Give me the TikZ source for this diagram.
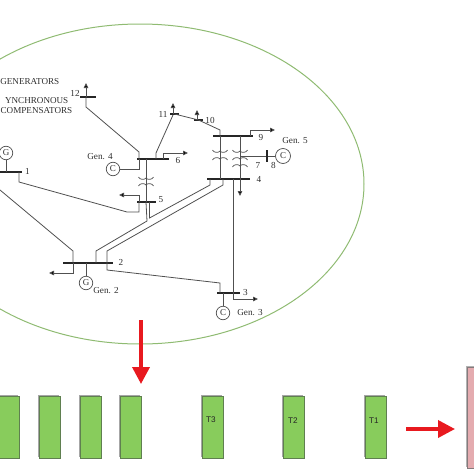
\documentclass[tikz,border=0pt]{standalone}
\usepackage{fontspec}
\setmainfont{Liberation Serif}
\newfontfamily\boxfont{Liberation Sans}
\usetikzlibrary{arrows.meta,shadows,shapes.geometric}
\definecolor{ringgreen}{HTML}{8FBB72}
\definecolor{boxgreen}{HTML}{88CC5C}
\definecolor{boxedge}{HTML}{5F7F50}
\definecolor{boxpink}{HTML}{E4ABAF}
\definecolor{pinkedge}{HTML}{857A7C}
\definecolor{redarrow}{HTML}{E8191F}
\definecolor{wire}{HTML}{505050}
\definecolor{inkgrey}{HTML}{2E2E2E}
\tikzset{
  busbar/.style={fill=black!85,draw=none,inner sep=0pt,minimum height=1.7pt},
  wireline/.style={draw=wire,line width=.8pt},
  loadarrow/.style={wireline,-{Triangle[length=5pt,width=4.5pt,fill=black]}},
  machine/.style={circle,draw=wire,line width=.7pt,inner sep=0pt,minimum size=13.5pt,font=\fontsize{9}{9}\selectfont,text=inkgrey},
  lab/.style={font=\fontsize{9.2}{10}\selectfont,text=inkgrey,inner sep=0pt},
  legendtext/.style={font=\fontsize{9.1}{10}\selectfont,text=inkgrey,inner sep=0pt,anchor=east},
  timebox/.style={rectangle,fill=boxgreen,draw=boxedge,line width=.8pt,inner sep=0pt,
    minimum width=21pt,minimum height=61.5pt,
    drop shadow={shadow xshift=-1.2pt,shadow yshift=1.4pt,fill=black,opacity=.35}},
  tlabel/.style={font=\boxfont\fontsize{8.2}{9}\selectfont,text=black!85,inner sep=0pt},
  pinkbox/.style={rectangle,fill=boxpink,draw=pinkedge,line width=.8pt,inner sep=0pt,
    drop shadow={shadow xshift=-1.2pt,shadow yshift=1.4pt,fill=black,opacity=.3}},
  redshaft/.style={draw=redarrow,line width=3.6pt},
}
\begin{document}
\begin{tikzpicture}[x=1pt,y=-1pt]
\useasboundingbox (0,0) rectangle (474,474);
\clip (0,0) rectangle (474,474);
\node[draw=ringgreen,line width=1pt,ellipse,inner sep=0pt,minimum width=448pt,minimum height=320pt] (ring) at (140,184) {};

% buses
\node[busbar,minimum width=26pt] (b1) at (9,172) {};
\node[busbar,minimum width=50pt] (b2) at (88,263) {};
\node[busbar,minimum width=23pt] (b3) at (228.5,293) {};
\node[busbar,minimum width=43pt] (b4) at (228.5,179) {};
\node[busbar,minimum width=19pt] (b5) at (146.5,202) {};
\node[busbar,minimum width=32pt] (b6) at (153,159) {};
\node[busbar,minimum width=2pt,minimum height=12pt] (b8) at (267,156) {};
\node[busbar,minimum width=40pt] (b9) at (233,136) {};
\node[busbar,minimum width=9pt] (b10) at (198.5,120) {};
\node[busbar,minimum width=9pt] (b11) at (174.5,114) {};
\node[busbar,minimum width=16pt] (b12) at (88,97) {};

% machines
\node[machine] (g1) at (6,153) {G};
\node[machine] (g2) at (86,283) {G};
\node[machine] (c3) at (223,313) {C};
\node[machine] (c4) at (113,169) {C};
\node[machine,minimum size=15pt] (c5) at (283,156) {C};

% tap points
\coordinate (t1a) at (19,172);
\coordinate (t1b) at (0,190);
\coordinate (t2a) at (73,263);
\coordinate (t2b) at (96,263);
\coordinate (t2c) at (107,263);
\coordinate (t3a) at (220,293);
\coordinate (t3b) at (233,293);
\coordinate (t4a) at (210,179);
\coordinate (t4b) at (223,179);
\coordinate (t4c) at (220,179);
\coordinate (t4d) at (240,179);
\coordinate (t4e) at (233,179);
\coordinate (t5a) at (139,202);
\coordinate (t5b) at (146,202);
\coordinate (t5c) at (149.5,202);
\coordinate (t6a) at (139,159);
\coordinate (t6b) at (146,159);
\coordinate (t6c) at (156,159);
\coordinate (t6d) at (163,159);
\coordinate (t9a) at (220,136);
\coordinate (t9b) at (240,136);
\coordinate (t9c) at (250,136);
\coordinate (e2) at (49,273);
\coordinate (e3) at (258,299);
\coordinate (e4) at (240,196);
\coordinate (e5) at (119,195);
\coordinate (e6) at (188,153);
\coordinate (e9) at (275,130);
\coordinate (e10) at (197,110);
\coordinate (e11) at (173,103);
\coordinate (e12) at (86,83);

% lines
\draw[wireline] (t1a) -- (19,182) -- (127,212) -- (139,212) -- (t5a);
\draw[wireline] (t1b) -- (73,251) -- (t2a);
\draw[wireline] (t5b) -- (147,221) -- (96,251) -- (t2b);
\draw[wireline] (t5c) -- (149.5,218) -- (210,185) -- (t4a);
\draw[wireline] (t2c) -- (107,251) -- (223,185) -- (t4b);
\draw[wireline] (t2c) -- (107,270) -- (220,283) -- (t3a);
\draw[wireline] (t4e) -- (t3b);
\draw[wireline] (b12.center -| e12) -- (86,107) -- (139,152) -- (t6a);
\draw[wireline] (t6c) -- (156,153) -- (173,115);
\draw[wireline] (t6b) -- (t5b);
\draw[wireline] (t4c) -- (t9a);
\draw[wireline] (t4d) -- (t9b);
\draw[wireline] (b11.center) -- (b10.center);
\draw[wireline] (b10.center) -- (220,130) -- (t9a);
\draw[wireline] (c4) -- (139,169) -- (t6a);
\draw[wireline] (240,156) -- (b8);
\draw[wireline] (b8) -- (c5);
\draw[wireline] (g1) -- (g1 |- b1);
\draw[wireline] (g2) -- (g2 |- b2);
\draw[wireline] (c3) -- (c3 |- b3);

% load arrows
\draw[loadarrow] (t2a) -- (73,273) -- (e2);
\draw[loadarrow] (t3b) -- (233,299) -- (e3);
\draw[loadarrow] (t4d) -- (e4);
\draw[loadarrow] (t5a) -- (139,195) -- (e5);
\draw[loadarrow] (t6d) -- (163,153) -- (e6);
\draw[loadarrow] (t9c) -- (250,130) -- (e9);
\draw[loadarrow] (b10.center -| e10) -- (e10);
\draw[loadarrow] (b11.center -| e11) -- (e11);
\draw[loadarrow] (b12.center -| e12) -- (e12);

% transformer windings
\foreach \tx/\ty in {146/177,220/150,240/150}{
  \draw[wireline,line width=.7pt] (\tx-7.5,\ty) .. controls (\tx-6,\ty+3) and (\tx-1.5,\ty+3) .. (\tx,\ty+1);
  \draw[wireline,line width=.7pt] (\tx,\ty+1) .. controls (\tx+1.5,\ty+3) and (\tx+6,\ty+3) .. (\tx+7.5,\ty);
}
\foreach \tx/\ty in {146/186,220/160,240/160,240/167}{
  \draw[wireline,line width=.7pt] (\tx-7.5,\ty) .. controls (\tx-6,\ty-3) and (\tx-1.5,\ty-3) .. (\tx,\ty-1);
  \draw[wireline,line width=.7pt] (\tx,\ty-1) .. controls (\tx+1.5,\ty-3) and (\tx+6,\ty-3) .. (\tx+7.5,\ty);
}

% labels
\node[legendtext] (l1) at (59.5,82) {GENERATORS};
\node[legendtext] (l2) at (68.5,101) {YNCHRONOUS};
\node[legendtext] (l3) at (72.5,111) {COMPENSATORS};
\node[lab] (n1) at (27.5,171) {1};
\node[lab] (n2) at (121,262) {2};
\node[lab] (n3) at (245.5,292) {3};
\node[lab] (n4) at (259,179) {4};
\node[lab] (n5) at (161,200) {5};
\node[lab] (n6) at (178,160) {6};
\node[lab] (n7) at (258,165) {7};
\node[lab] (n8) at (273.5,165) {8};
\node[lab] (n9) at (261,137) {9};
\node[lab] (n10) at (210,120) {10};
\node[lab] (n11) at (163,114) {11};
\node[lab] (n12) at (75,93) {12};
\node[lab] (gn2) at (106,291) {Gen. 2};
\node[lab] (gn3) at (250,313) {Gen. 3};
\node[lab] (gn4) at (100,157) {Gen. 4};
\node[lab] (gn5) at (295,141) {Gen. 5};

% boxes
\node[timebox] (s1) at (9,427.5) {};
\node[timebox] (s2) at (49.5,427.5) {};
\node[timebox] (s3) at (90.5,427.5) {};
\node[timebox] (s4) at (131,427.5) {};
\node[timebox] (s5) at (212.5,427.5) {};
\node[tlabel] (T3) at (211,420) {T3};
\node[timebox] (s6) at (294,427.5) {};
\node[tlabel] (T2) at (293,420.5) {T2};
\node[timebox] (s7) at (375.5,427.5) {};
\node[tlabel] (T1) at (374,420.5) {T1};
\node[pinkbox,minimum width=30pt,minimum height=101pt] (out) at (482,417.5) {};

% red arrows
\coordinate (d0) at (141,320);
\coordinate (d1) at (141,384);
\coordinate (r0) at (406,429);
\coordinate (r1) at (455,429);
\draw[redshaft,-{Triangle[length=17pt,width=17pt,fill=redarrow]}] (d0) -- (d1);
\draw[redshaft,-{Triangle[length=17pt,width=17pt,fill=redarrow]}] (r0) -- (r1);
\end{tikzpicture}
\end{document}
